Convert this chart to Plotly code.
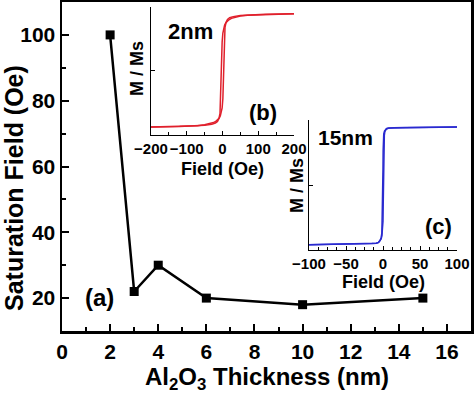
import plotly.graph_objects as go

# ---- data ----
thickness = [2, 3, 4, 6, 10, 15]
sat_field = [100, 22, 30, 20, 18, 20]

# inset (b) 2 nm loop
hb_down = [200, 150, 100, 70, 50, 35, 25, 18, 13, 9, 6, 3, 1, -1, -2, -3, -4, -5, -7, -10, -14, -20, -30, -50, -80, -120, -200]
mb_down = [1.00, 0.995, 0.985, 0.975, 0.96, 0.94, 0.92, 0.895, 0.87, 0.84, 0.8, 0.74, 0.66, 0.5, 0.3, 0.0, -0.35, -0.6, -0.76, -0.85, -0.9, -0.93, -0.95, -0.97, -0.98, -0.99, -1.00]
hb_up = [-200, -150, -100, -70, -50, -35, -25, -18, -13, -9, -6, -3, -1, 1, 2, 3, 4, 5, 7, 10, 14, 20, 30, 50, 80, 120, 200]
mb_up = [-1.00, -0.995, -0.985, -0.975, -0.96, -0.94, -0.92, -0.895, -0.87, -0.84, -0.8, -0.74, -0.66, -0.5, -0.3, 0.0, 0.35, 0.6, 0.76, 0.85, 0.9, 0.93, 0.95, 0.97, 0.98, 0.99, 1.00]

# inset (c) 15 nm loop
hc_down = [100, 60, 30, 15, 8, 5, 3, 2, 1, 0.5, 0.2, 0, -0.3, -0.6, -1, -1.5, -2.5, -4, -6, -9, -15, -30, -60, -100]
mc_down = [1.0, 0.997, 0.994, 0.99, 0.985, 0.975, 0.955, 0.93, 0.88, 0.8, 0.6, 0.3, -0.1, -0.45, -0.68, -0.8, -0.88, -0.93, -0.96, -0.975, -0.98, -0.985, -0.99, -1.0]
hc_up = [-100, -60, -30, -15, -9, -6, -4, -2.5, -1.5, -0.5, 0, 0.3, 0.6, 0.8, 1.0, 1.3, 1.8, 2.5, 4, 7, 15, 30, 60, 100]
mc_up = [-1.0, -0.99, -0.985, -0.98, -0.975, -0.96, -0.935, -0.9, -0.85, -0.75, -0.6, -0.3, 0.0, 0.3, 0.55, 0.75, 0.86, 0.92, 0.96, 0.98, 0.99, 0.994, 0.997, 1.0]

main_xticks = [0, 2, 4, 6, 8, 10, 12, 14, 16]
main_yticks = [20, 40, 60, 80, 100]
b_xticks = [-200, -100, 0, 100, 200]
c_xticks = [-100, -50, 0, 50, 100]

# ---- layout helpers ----
W, H = 474, 398
L, R, T, B = 62, 3, 2, 67
PW, PH = W - L - R, H - T - B


def px(x):
    return (x - L) / PW


def py(y):
    return (H - B - y) / PH


ARIAL = "Liberation Sans, Arial, sans-serif"

fig = go.Figure()

fig.add_trace(go.Scatter(x=thickness, y=sat_field, mode="lines+markers",
                         line=dict(color="black", width=2.5),
                         marker=dict(symbol="square", size=9, color="black"),
                         xaxis="x", yaxis="y", showlegend=False))

red = "#e0202c"
blue = "#2a2ad0"
fig.add_trace(go.Scatter(x=hb_down, y=mb_down, mode="lines", line=dict(color=red, width=1.5),
                         xaxis="x2", yaxis="y2", showlegend=False))
fig.add_trace(go.Scatter(x=hb_up, y=mb_up, mode="lines", line=dict(color=red, width=1.5),
                         xaxis="x2", yaxis="y2", showlegend=False))
fig.add_trace(go.Scatter(x=hc_down, y=mc_down, mode="lines", line=dict(color=blue, width=1.5),
                         xaxis="x3", yaxis="y3", showlegend=False))
fig.add_trace(go.Scatter(x=hc_up, y=mc_up, mode="lines", line=dict(color=blue, width=1.5),
                         xaxis="x3", yaxis="y3", showlegend=False))

main_tickfont = dict(family=ARIAL, size=21, color="black", weight="bold")
inset_tickfont = dict(family=ARIAL, size=15, color="black", weight="bold")

common = dict(showgrid=False, zeroline=False, automargin=False, tickcolor="black",
              linecolor="black", showline=True, ticks="inside")

fig.update_layout(
    template="none",
    width=W, height=H,
    margin=dict(l=L, r=R, t=T, b=B),
    paper_bgcolor="white", plot_bgcolor="white",
    hovermode=False,
    xaxis=dict(domain=[0, 1], range=[0, 17], tickvals=main_xticks, ticklen=7,
               tickwidth=2, linewidth=2.5, mirror=True, tickfont=main_tickfont, tickangle=0,
               minor=dict(dtick=1, ticks="inside", ticklen=4, tickwidth=2, tickcolor="black"),
               **common),
    yaxis=dict(domain=[0, 1], range=[10, 110], tickvals=main_yticks, ticklen=7,
               tickwidth=2, linewidth=2.5, mirror=True, tickfont=main_tickfont,
               minor=dict(dtick=10, ticks="inside", ticklen=4, tickwidth=2, tickcolor="black"),
               **common),
    xaxis2=dict(domain=[px(151), px(294)], anchor="y2", range=[-200, 200], tickvals=b_xticks,
                ticklen=4, tickwidth=1, linewidth=1.2, tickfont=inset_tickfont, tickangle=0,
                minor=dict(dtick=50, ticks="inside", ticklen=3, tickcolor="black"),
                **common),
    yaxis2=dict(domain=[py(135), py(7)], anchor="x2", range=[-1.14, 1.12], tickvals=[0],
                ticklen=4, tickwidth=1, linewidth=1.2, showticklabels=False, **common),
    xaxis3=dict(domain=[px(309), px(457)], anchor="y3", range=[-100, 100], tickvals=c_xticks,
                ticklen=4, tickwidth=1, linewidth=1.2, tickfont=inset_tickfont, tickangle=0,
                minor=dict(dtick=12.5, ticks="inside", ticklen=3, tickcolor="black"),
                **common),
    yaxis3=dict(domain=[py(250), py(120)], anchor="x3", range=[-1.09, 1.12], tickvals=[0],
                ticklen=4, tickwidth=1, linewidth=1.2, showticklabels=False, **common),
)


def ann(text, x, y, size, angle=0):
    fig.add_annotation(text=f"<b>{text}</b>", x=px(x), y=py(y), xref="paper", yref="paper",
                       showarrow=False, textangle=angle, xanchor="center", yanchor="middle",
                       font=dict(family=ARIAL, size=size, color="black"))


ann("Saturation Field (Oe)", 14, 188, 25, -90)
ann("Al<sub>2</sub>O<sub>3</sub> Thickness (nm)", 267, 378, 24)
ann("(a)", 99, 297, 24)
ann("2nm", 190, 32, 22)
ann("(b)", 263, 113, 22)
ann("M / Ms", 137, 69, 18, angle=-90)
ann("Field (Oe)", 222, 169, 18)
ann("15nm", 345, 137, 21)
ann("(c)", 438, 227, 22)
ann("M / Ms", 297, 186, 18, angle=-90)
ann("Field (Oe)", 383, 282, 18)

fig.write_html("out.html", config={"displayModeBar": False, "staticPlot": True},
               post_script="document.body.style.margin='0';document.body.style.padding='0';")
